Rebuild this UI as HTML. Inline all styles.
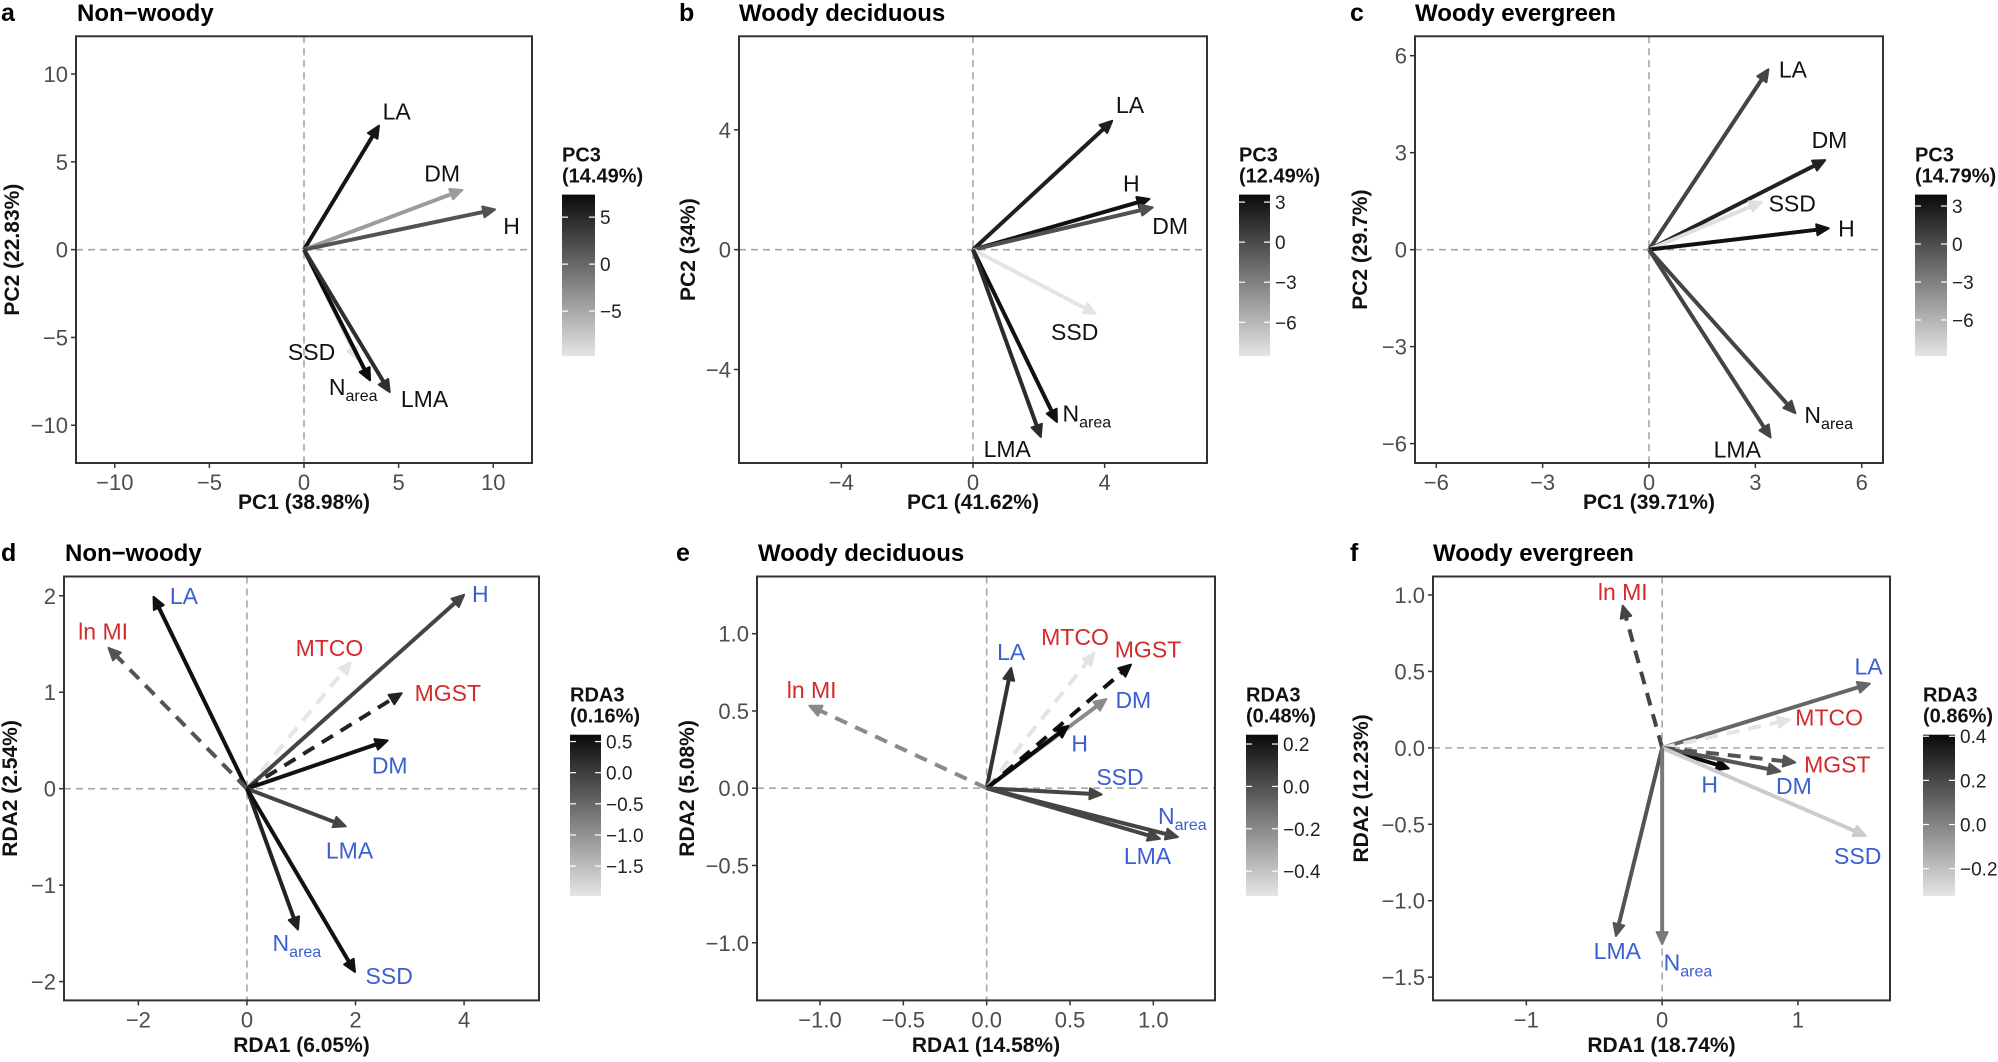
<!DOCTYPE html>
<html><head><meta charset="utf-8"><title>PCA and RDA biplots</title>
<style>
html,body{margin:0;padding:0;background:#fff;}
svg{display:block;font-family:"Liberation Sans",Arial,sans-serif;}
</style></head>
<body>
<svg id="fig" width="1998" height="1062" viewBox="0 0 1998 1062" xmlns="http://www.w3.org/2000/svg">
<defs id="defs"></defs>
</svg>
<script>
// ---------- Panel a: Non-woody PCA ----------
const aNames = ["LA","DM","H","SSD","Narea","LMA"];
const aX = [3.96, 8.37, 10.1, 2.83, 3.49, 4.53];
const aY = [7.06, 3.4, 2.29, -6.26, -7.44, -8.11];
const aZ = [6.5, -4.1, 1.7, -9.6, 7.3, 4.5];
const aLabX = [4.9, 7.3, 10.97, 0.4, 2.6, 6.37];
const aLabY = [7.86, 4.35, 1.34, -5.82, -7.82, -8.5];
const aXTicks = [-10, -5, 0, 5, 10];
const aYTicks = [-10, -5, 0, 5, 10];
const aZTicks = [5, 0, -5];
// ---------- Panel b: Woody deciduous PCA ----------
const bNames = ["LA","H","DM","SSD","Narea","LMA"];
const bX = [4.23, 5.36, 5.46, 3.73, 2.55, 2.06];
const bY = [4.3, 1.69, 1.41, -2.14, -5.75, -6.25];
const bZ = [2.4, 3.2, -0.3, -8.5, 3.2, 1.75];
const bLabX = [4.77, 4.81, 5.99, 3.09, 3.46, 1.04];
const bLabY = [4.82, 2.2, 0.79, -2.74, -5.46, -6.65];
const bXTicks = [-4, 0, 4];
const bYTicks = [-4, 0, 4];
const bZTicks = [3, 0, -3, -6];
// ---------- Panel c: Woody evergreen PCA ----------
const cNames = ["LA","DM","SSD","H","Narea","LMA"];
const cX = [3.37, 4.97, 3.18, 5.07, 4.13, 3.43];
const cY = [5.58, 2.77, 1.48, 0.66, -5.06, -5.81];
const cZ = [0.52, 2.5, -8.5, 3.5, 0.52, 0.52];
const cLabX = [4.06, 5.09, 4.04, 5.57, 5.07, 2.49];
const cLabY = [5.58, 3.39, 1.43, 0.65, -5.11, -6.18];
const cXTicks = [-6, -3, 0, 3, 6];
const cYTicks = [-6, -3, 0, 3, 6];
const cZTicks = [3, 0, -3, -6];
// ---------- Panel d: Non-woody RDA ----------
const dNames = ["LA","lnMI","MTCO","H","MGST","DM","LMA","Narea","SSD"];
const dX = [-1.72, -2.55, 1.91, 4.0, 2.85, 2.59, 1.82, 0.94, 1.99];
const dY = [1.99, 1.46, 1.31, 2.01, 0.99, 0.5, -0.39, -1.46, -1.9];
const dZ = [0.53, -0.27, -1.98, -0.08, 0.32, 0.53, -0.08, 0.32, 0.53];
const dEnv = [0, 1, 1, 0, 1, 0, 0, 0, 0];
const dLabX = [-1.16, -2.65, 1.52, 4.3, 3.7, 2.63, 1.89, 0.92, 2.62];
const dLabY = [2.0, 1.63, 1.46, 2.02, 0.99, 0.24, -0.64, -1.6, -1.94];
const dXTicks = [-2, 0, 2, 4];
const dYTicks = [-2, -1, 0, 1, 2];
const dZTicks = [0.5, 0.0, -0.5, -1.0, -1.5];
// ---------- Panel e: Woody deciduous RDA ----------
const eNames = ["LA","lnMI","MTCO","MGST","DM","H","SSD","Narea","LMA"];
const eX = [0.147, -1.064, 0.646, 0.866, 0.718, 0.49, 0.69, 1.147, 1.04];
const eY = [0.778, 0.534, 0.876, 0.8, 0.577, 0.403, -0.04, -0.316, -0.327];
const eZ = [0.1, -0.2, -0.51, 0.22, -0.2, 0.244, 0.04, 0.04, 0.04];
const eEnv = [0, 1, 1, 1, 0, 0, 0, 0, 0];
const eLabX = [0.147, -1.05, 0.53, 0.968, 0.88, 0.558, 0.8, 1.174, 0.965];
const eLabY = [0.882, 0.636, 0.978, 0.898, 0.571, 0.288, 0.074, -0.18, -0.438];
const eXTicks = [-1.0, -0.5, 0.0, 0.5, 1.0];
const eYTicks = [-1.0, -0.5, 0.0, 0.5, 1.0];
const eZTicks = [0.2, 0.0, -0.2, -0.4];
// ---------- Panel f: Woody evergreen RDA ----------
const fNames = ["lnMI","LA","MTCO","MGST","H","DM","SSD","LMA","Narea"];
const fX = [-0.29, 1.53, 0.94, 0.98, 0.49, 0.87, 1.5, -0.34, 0];
const fY = [0.93, 0.42, 0.185, -0.095, -0.134, -0.154, -0.575, -1.23, -1.284];
const fZ = [0.213, 0.1, -0.32, 0.16, 0.407, 0.16, -0.24, 0.16, 0.04];
const fEnv = [1, 0, 1, 1, 0, 0, 0, 0, 0];
const fLabX = [-0.29, 1.52, 1.23, 1.29, 0.35, 0.97, 1.44, -0.33, 0.19];
const fLabY = [1.02, 0.533, 0.2, -0.11, -0.24, -0.25, -0.707, -1.33, -1.405];
const fXTicks = [-1, 0, 1];
const fYTicks = [-1.5, -1.0, -0.5, 0.0, 0.5, 1.0];
const fZTicks = [0.4, 0.2, 0.0, -0.2];

const NS = "http://www.w3.org/2000/svg";
const svg = document.getElementById("fig");
const defs = document.getElementById("defs");
function mk(tag, attrs, parent) {
  const e = document.createElementNS(NS, tag);
  for (const k in attrs) e.setAttribute(k, attrs[k]);
  (parent || svg).appendChild(e);
  return e;
}
function fmt(v, dec) {
  const s = Math.abs(v).toFixed(dec);
  return (v < 0 ? "\u2212" : "") + s;
}
function grayOf(z, zr) {
  let t = (z - zr[0]) / (zr[1] - zr[0]);
  t = Math.max(0, Math.min(1, t));
  const g = Math.round(229 - t * 219);
  return "rgb(" + g + "," + g + "," + g + ")";
}

function drawPanel(P, names, xs, ys, zs, lx, ly, env, xt, yt, zt) {
  const g = mk("g", {});
  
  
  const [L, T, R, B] = P.box;
  const sx = v => L + (v - P.xr[0]) / (P.xr[1] - P.xr[0]) * (R - L);
  const sy = v => B - (v - P.yr[0]) / (P.yr[1] - P.yr[0]) * (B - T);

  const lt = mk("text", {x: P.letterX, y: P.titleY, "font-size": 25, "font-weight": "bold", fill: "#000"}, g);
  lt.textContent = P.id;
  
  
  const tt = mk("text", {x: P.titleX, y: P.titleY, "font-size": 24, "font-weight": "bold", fill: "#000"}, g);
  tt.textContent = P.title;
  
  

  const zx = mk("line", {x1: sx(0), x2: sx(0), y1: T, y2: B, stroke: "#a6a6a6", "stroke-width": 1.6, "stroke-dasharray": "7 5"}, g);
  
  
  const zy = mk("line", {x1: L, x2: R, y1: sy(0), y2: sy(0), stroke: "#a6a6a6", "stroke-width": 1.6, "stroke-dasharray": "7 5"}, g);
  
  

  const x0 = sx(0), y0 = sy(0);
  for (let i = 0; i < names.length; i++) {
    const col = grayOf(zs[i], P.zr);
    const tx = sx(xs[i]), ty = sy(ys[i]);
    const dx = tx - x0, dy = ty - y0;
    const len = Math.hypot(dx, dy) || 1;
    const ux = dx / len, uy = dy / len;
    const hl = 12, hw = 5.5;
    const ag = mk("g", {}, g);
    
    
    const ln = mk("line", {x1: x0, y1: y0, x2: tx - ux * hl * 0.7, y2: ty - uy * hl * 0.7, stroke: col, "stroke-width": 4}, ag);
    if (env && env[i]) ln.setAttribute("stroke-dasharray", "13 9");
    const bx = tx - ux * hl, by = ty - uy * hl;
    mk("polygon", {points: tx + "," + ty + " " + (bx - uy * hw) + "," + (by + ux * hw) + " " + (bx + uy * hw) + "," + (by - ux * hw),
      fill: col, stroke: col, "stroke-width": 2, "stroke-linejoin": "round"}, ag);

    const isEnv = env && env[i];
    const lcol = env ? (isEnv ? "#d42a2a" : "#3a5fd0") : "#111";
    const lab = mk("text", {x: sx(lx[i]), y: sy(ly[i]) + 8, "font-size": 23, "text-anchor": "middle", fill: lcol, "font-family": "\"Liberation Sans Narrow\",\"Liberation Sans\",sans-serif"}, g);
    
    
    if (names[i] === "Narea") {
      const t1 = mk("tspan", {}, lab); t1.textContent = "N";
      const t2 = mk("tspan", {"font-size": 16, dy: 6}, lab); t2.textContent = "area";
    } else if (names[i] === "lnMI") {
      lab.textContent = "ln MI";
    } else {
      lab.textContent = names[i];
    }
  }

  const box = mk("rect", {x: L, y: T, width: R - L, height: B - T, fill: "none", stroke: "#333", "stroke-width": 2}, g);
  
  

  for (const v of xt) {
    const X = sx(v);
    mk("line", {x1: X, x2: X, y1: B, y2: B + 5, stroke: "#333", "stroke-width": 1.5}, g);
    const t = mk("text", {x: X, y: B + 27, "font-size": 22, "text-anchor": "middle", fill: "#4d4d4d", "font-family": "\"Liberation Sans Narrow\",\"Liberation Sans\",sans-serif"}, g);
    t.textContent = fmt(v, P.xdec);
    
    
  }
  for (const v of yt) {
    const Y = sy(v);
    mk("line", {x1: L - 5, x2: L, y1: Y, y2: Y, stroke: "#333", "stroke-width": 1.5}, g);
    const t = mk("text", {x: L - 8, y: Y + 8, "font-size": 22, "text-anchor": "end", fill: "#4d4d4d", "font-family": "\"Liberation Sans Narrow\",\"Liberation Sans\",sans-serif"}, g);
    t.textContent = fmt(v, P.ydec);
    
    
  }
  const xa = mk("text", {x: (L + R) / 2, y: P.xtitleY, "font-size": 21, "font-weight": "bold", "text-anchor": "middle", fill: "#111"}, g);
  xa.textContent = P.xtitle;
  
  
  const ya = mk("text", {x: 0, y: 0, "font-size": 21, "font-weight": "bold", "text-anchor": "middle", fill: "#111",
    transform: "translate(" + (P.ytitleX + 7) + "," + ((T + B) / 2) + ") rotate(-90)"}, g);
  ya.textContent = P.ytitle;
  
  

  const lg = mk("g", {}, g);
  
  
  const [lx0, lx1] = P.legX;
  const [lt0, lb0] = P.legY;
  const t1 = mk("text", {x: lx0, y: lt0 - 33, "font-size": 20, "font-weight": "bold", fill: "#111"}, lg);
  t1.textContent = P.legTitle1;
  const t2 = mk("text", {x: lx0, y: lt0 - 12, "font-size": 20, "font-weight": "bold", fill: "#111"}, lg);
  t2.textContent = P.legTitle2;
  const gid = "grad-" + P.id;
  const gr = mk("linearGradient", {id: gid, x1: 0, y1: 0, x2: 0, y2: 1}, defs);
  mk("stop", {offset: 0, "stop-color": grayOf(P.zr[1], P.zr)}, gr);
  mk("stop", {offset: 1, "stop-color": grayOf(P.zr[0], P.zr)}, gr);
  mk("rect", {x: lx0, y: lt0, width: lx1 - lx0, height: lb0 - lt0, fill: "url(#" + gid + ")"}, lg);
  const zy2 = v => lb0 - (v - P.zr[0]) / (P.zr[1] - P.zr[0]) * (lb0 - lt0);
  for (const v of zt) {
    const Y = zy2(v);
    mk("line", {x1: lx0, x2: lx0 + 6, y1: Y, y2: Y, stroke: "#fff", "stroke-width": 1.2}, lg);
    mk("line", {x1: lx1 - 6, x2: lx1, y1: Y, y2: Y, stroke: "#fff", "stroke-width": 1.2}, lg);
    const t = mk("text", {x: lx1 + 5, y: Y + 7, "font-size": 19, fill: "#222", "font-family": "\"Liberation Sans Narrow\",\"Liberation Sans\",sans-serif"}, lg);
    t.textContent = fmt(v, P.zdec);
    
    
  }
}

const R1 = [36.3, 463], R2 = [576.5, 1000.4];
drawPanel({id: "a", title: "Non\u2212woody", letterX: 1, titleX: 77, titleY: 21, box: [76, R1[0], 532, R1[1]],
  xr: [-12.05, 12.05], yr: [-12.15, 12.15], xdec: 0, ydec: 0, zdec: 0, zr: [-9.8, 7.4],
  xtitle: "PC1 (38.98%)", ytitle: "PC2 (22.83%)", xtitleY: 509, ytitleX: 12,
  legX: [562, 595], legY: [194.6, 356.2], legTitle1: "PC3", legTitle2: "(14.49%)"},
  aNames, aX, aY, aZ, aLabX, aLabY, null, aXTicks, aYTicks, aZTicks);
drawPanel({id: "b", title: "Woody deciduous", letterX: 679, titleX: 739, titleY: 21, box: [739, R1[0], 1207, R1[1]],
  xr: [-7.11, 7.11], yr: [-7.12, 7.12], xdec: 0, ydec: 0, zdec: 0, zr: [-8.54, 3.56],
  xtitle: "PC1 (41.62%)", ytitle: "PC2 (34%)", xtitleY: 509, ytitleX: 688,
  legX: [1239, 1270], legY: [194.6, 356.2], legTitle1: "PC3", legTitle2: "(12.49%)"},
  bNames, bX, bY, bZ, bLabX, bLabY, null, bXTicks, bYTicks, bZTicks);
drawPanel({id: "c", title: "Woody evergreen", letterX: 1350, titleX: 1415, titleY: 21, box: [1415, R1[0], 1883, R1[1]],
  xr: [-6.6, 6.6], yr: [-6.6, 6.6], xdec: 0, ydec: 0, zdec: 0, zr: [-8.86, 3.9],
  xtitle: "PC1 (39.71%)", ytitle: "PC2 (29.7%)", xtitleY: 509, ytitleX: 1360,
  legX: [1915, 1947], legY: [194.6, 356.2], legTitle1: "PC3", legTitle2: "(14.79%)"},
  cNames, cX, cY, cZ, cLabX, cLabY, null, cXTicks, cYTicks, cZTicks);
drawPanel({id: "d", title: "Non\u2212woody", letterX: 1, titleX: 65, titleY: 561, box: [64, R2[0], 539, R2[1]],
  xr: [-3.37, 5.38], yr: [-2.195, 2.2], xdec: 0, ydec: 0, zdec: 1, zr: [-1.98, 0.61],
  xtitle: "RDA1 (6.05%)", ytitle: "RDA2 (2.54%)", xtitleY: 1052, ytitleX: 10,
  legX: [570, 601], legY: [734.7, 896], legTitle1: "RDA3", legTitle2: "(0.16%)"},
  dNames, dX, dY, dZ, dLabX, dLabY, dEnv, dXTicks, dYTicks, dZTicks);
drawPanel({id: "e", title: "Woody deciduous", letterX: 676, titleX: 758, titleY: 561, box: [757, R2[0], 1215, R2[1]],
  xr: [-1.378, 1.37], yr: [-1.373, 1.37], xdec: 1, ydec: 1, zdec: 1, zr: [-0.517, 0.244],
  xtitle: "RDA1 (14.58%)", ytitle: "RDA2 (5.08%)", xtitleY: 1052, ytitleX: 687,
  legX: [1246, 1278], legY: [734.7, 896], legTitle1: "RDA3", legTitle2: "(0.48%)"},
  eNames, eX, eY, eZ, eLabX, eLabY, eEnv, eXTicks, eYTicks, eZTicks);
drawPanel({id: "f", title: "Woody evergreen", letterX: 1350, titleX: 1433, titleY: 561, box: [1433, R2[0], 1890, R2[1]],
  xr: [-1.6875, 1.678], yr: [-1.652, 1.121], xdec: 0, ydec: 1, zdec: 1, zr: [-0.324, 0.407],
  xtitle: "RDA1 (18.74%)", ytitle: "RDA2 (12.23%)", xtitleY: 1052, ytitleX: 1361,
  legX: [1923, 1955], legY: [734.7, 896], legTitle1: "RDA3", legTitle2: "(0.86%)"},
  fNames, fX, fY, fZ, fLabX, fLabY, fEnv, fXTicks, fYTicks, fZTicks);
</script>
</body></html>
